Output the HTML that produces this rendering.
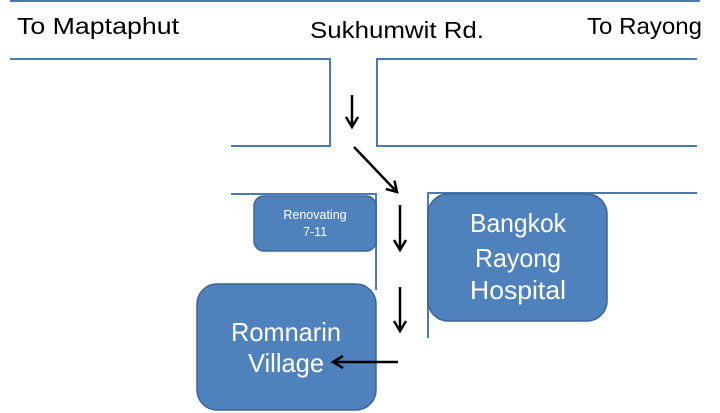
<!DOCTYPE html>
<html><head><style>body{margin:0;background:#fff}svg{display:block}</style></head><body>
<svg width="720" height="413" viewBox="0 0 720 413" xmlns="http://www.w3.org/2000/svg">
<defs><marker id="a" markerWidth="14" markerHeight="14" refX="11" refY="7" orient="auto" markerUnits="userSpaceOnUse"><path d="M1,1 L11,7 L1,13" fill="none" stroke="#000" stroke-width="2.5"/></marker></defs>
<g stroke="#4a7ab0" stroke-width="2" fill="none">
<line x1="10" y1="1" x2="700" y2="1"/>
<polyline points="10,59 330,59 330,146 231,146"/>
<polyline points="697,59 377,59 377,146 697,146"/>
<polyline points="231,194 376,194 376,290"/>
<polyline points="697,193 428,193 428,338"/>
</g>
<g fill="#4f81bd" stroke="#3b6596" stroke-width="1.5">
<rect x="254" y="196" width="122" height="55" rx="10"/>
<rect x="428" y="194" width="179" height="127" rx="20"/>
<rect x="197" y="284" width="179" height="126" rx="20"/>
</g>
<g font-family="Liberation Sans, sans-serif" fill="#000" font-size="23">
<text x="17" y="34" textLength="162" lengthAdjust="spacingAndGlyphs">To Maptaphut</text>
<text x="310" y="38" textLength="174" lengthAdjust="spacingAndGlyphs">Sukhumwit Rd.</text>
<text x="587" y="34" textLength="115" lengthAdjust="spacingAndGlyphs">To Rayong</text>
</g>
<g font-family="Liberation Sans, sans-serif" fill="#fff" text-anchor="middle">
<text x="315" y="219" font-size="12.5">Renovating</text>
<text x="315" y="236" font-size="12.5">7-11</text>
<text x="518" y="232" font-size="26" textLength="96" lengthAdjust="spacingAndGlyphs">Bangkok</text>
<text x="518" y="267" font-size="26" textLength="86" lengthAdjust="spacingAndGlyphs">Rayong</text>
<text x="518" y="299" font-size="26" textLength="96" lengthAdjust="spacingAndGlyphs">Hospital</text>
<text x="286" y="341" font-size="26" textLength="110" lengthAdjust="spacingAndGlyphs">Romnarin</text>
<text x="286" y="372" font-size="26" textLength="76" lengthAdjust="spacingAndGlyphs">Village</text>
</g>
<g stroke="#000" stroke-width="2.5" marker-end="url(#a)">
<line x1="352" y1="95" x2="352" y2="127"/>
<line x1="354" y1="147" x2="397" y2="192"/>
<line x1="400" y1="205" x2="400" y2="250"/>
<line x1="400" y1="287" x2="400" y2="331"/>
<line x1="398" y1="362" x2="333" y2="362"/>
</g>
</svg>
</body></html>
